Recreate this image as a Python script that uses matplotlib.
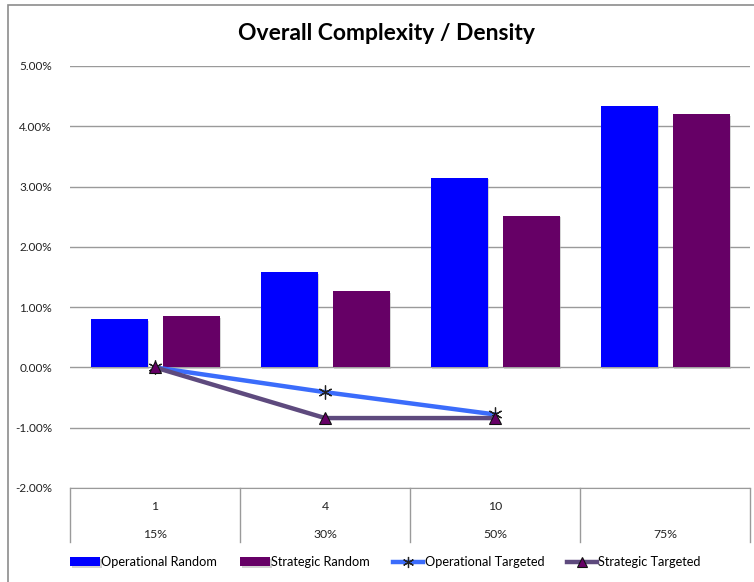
import matplotlib
matplotlib.use("Agg")
import matplotlib.pyplot as plt
import matplotlib.patches as mpatches
import matplotlib.patheffects as pe
from matplotlib.ticker import FuncFormatter, MultipleLocator
import matplotlib.transforms as mtrans
import numpy as np

plt.rcParams['font.family'] = ['Lato', 'DejaVu Sans']

cat_top = ["1", "4", "10", ""]
cat_bottom = ["15%", "30%", "50%", "75%"]
op_random = [0.80, 1.58, 3.15, 4.33]
strat_random = [0.85, 1.26, 2.52, 4.20]
op_targeted = [0.00, -0.41, -0.78]
strat_targeted = [0.00, -0.84, -0.84]
title = "Overall Complexity / Density"

W, H = 754, 582
fig = plt.figure(figsize=(W/100, H/100), dpi=100)

# chart border
fig.patches.append(mpatches.Rectangle((8/W, -0.05), 1.2, 1 - 5/H + 0.05,
                                      transform=fig.transFigure, fill=False,
                                      edgecolor="#8c8c8c", linewidth=1.2))

ax = fig.add_axes([70/W, 1 - 488/H, 680/W, (488-66)/H])
n = len(cat_bottom)
x = np.arange(n) + 0.5
bw = 57/170
gap = 15/170

shadow = [pe.SimplePatchShadow(offset=(1.2, -1.2), shadow_rgbFace="#aaaaaa", alpha=0.5), pe.Normal()]
b1 = ax.bar(x - gap/2 - bw/2, op_random, bw, color="#0000FF", zorder=3, path_effects=shadow,
            label="Operational Random")
b2 = ax.bar(x + gap/2 + bw/2, strat_random, bw, color="#660066", zorder=3, path_effects=shadow,
            label="Strategic Random")

l1, = ax.plot(x[:len(op_targeted)], op_targeted, color="#3B6CFB", lw=3.2, zorder=4,
              marker=(6, 2, 0), markersize=10, markeredgecolor="#222222", markeredgewidth=0.9,
              label="Operational Targeted")
l2, = ax.plot(x[:len(strat_targeted)], strat_targeted, color="#5E4A7E", lw=3.2, zorder=5,
              marker="^", markersize=9, markerfacecolor="#660066", markeredgecolor="#111111",
              markeredgewidth=0.8, label="Strategic Targeted")

ax.set_xlim(0, n)
ax.set_ylim(-2, 5)
ax.yaxis.set_major_locator(MultipleLocator(1))
ax.yaxis.set_major_formatter(FuncFormatter(lambda v, p: f"{v:.2f}%"))
ax.grid(axis="y", color="#9a9a9a", linewidth=1.0, zorder=0)
ax.set_axisbelow(True)
for s in ["left", "right", "top"]:
    ax.spines[s].set_visible(False)
ax.spines["bottom"].set_color("#9a9a9a")
ax.tick_params(axis="y", length=0, pad=13, labelsize=8.5, labelcolor="#222222")
ax.set_xticks([])

# category axis labels (two levels) and separators
trans = mtrans.blended_transform_factory(ax.transData, ax.transAxes)
sep_bottom = -(542-488)/(488-66)
for i in range(n + 1):
    ax.plot([i, i], [0, sep_bottom], transform=trans, color="#9a9a9a", lw=1.0, clip_on=False)
for i in range(n):
    ax.text(x[i], -(507-488)/(488-66), cat_top[i], transform=trans, ha="center", va="center",
            fontsize=8.8, color="#222222")
    ax.text(x[i], -(534-488)/(488-66), cat_bottom[i], transform=trans, ha="center", va="center",
            fontsize=8.8, color="#222222")

fig.text(386/W, 1 - 33/H, title, ha="center", va="center", fontsize=16.5, fontweight="bold")

fig.legend(handles=[b1, b2, l1, l2], loc="center left", bbox_to_anchor=(70/W, 1 - 562/H),
           ncol=4, frameon=False, fontsize=9.2, handlelength=2.35, handletextpad=0.1,
           columnspacing=1.8, borderaxespad=0, borderpad=0, markerscale=0.8)

fig.savefig("out.png", dpi=100)
